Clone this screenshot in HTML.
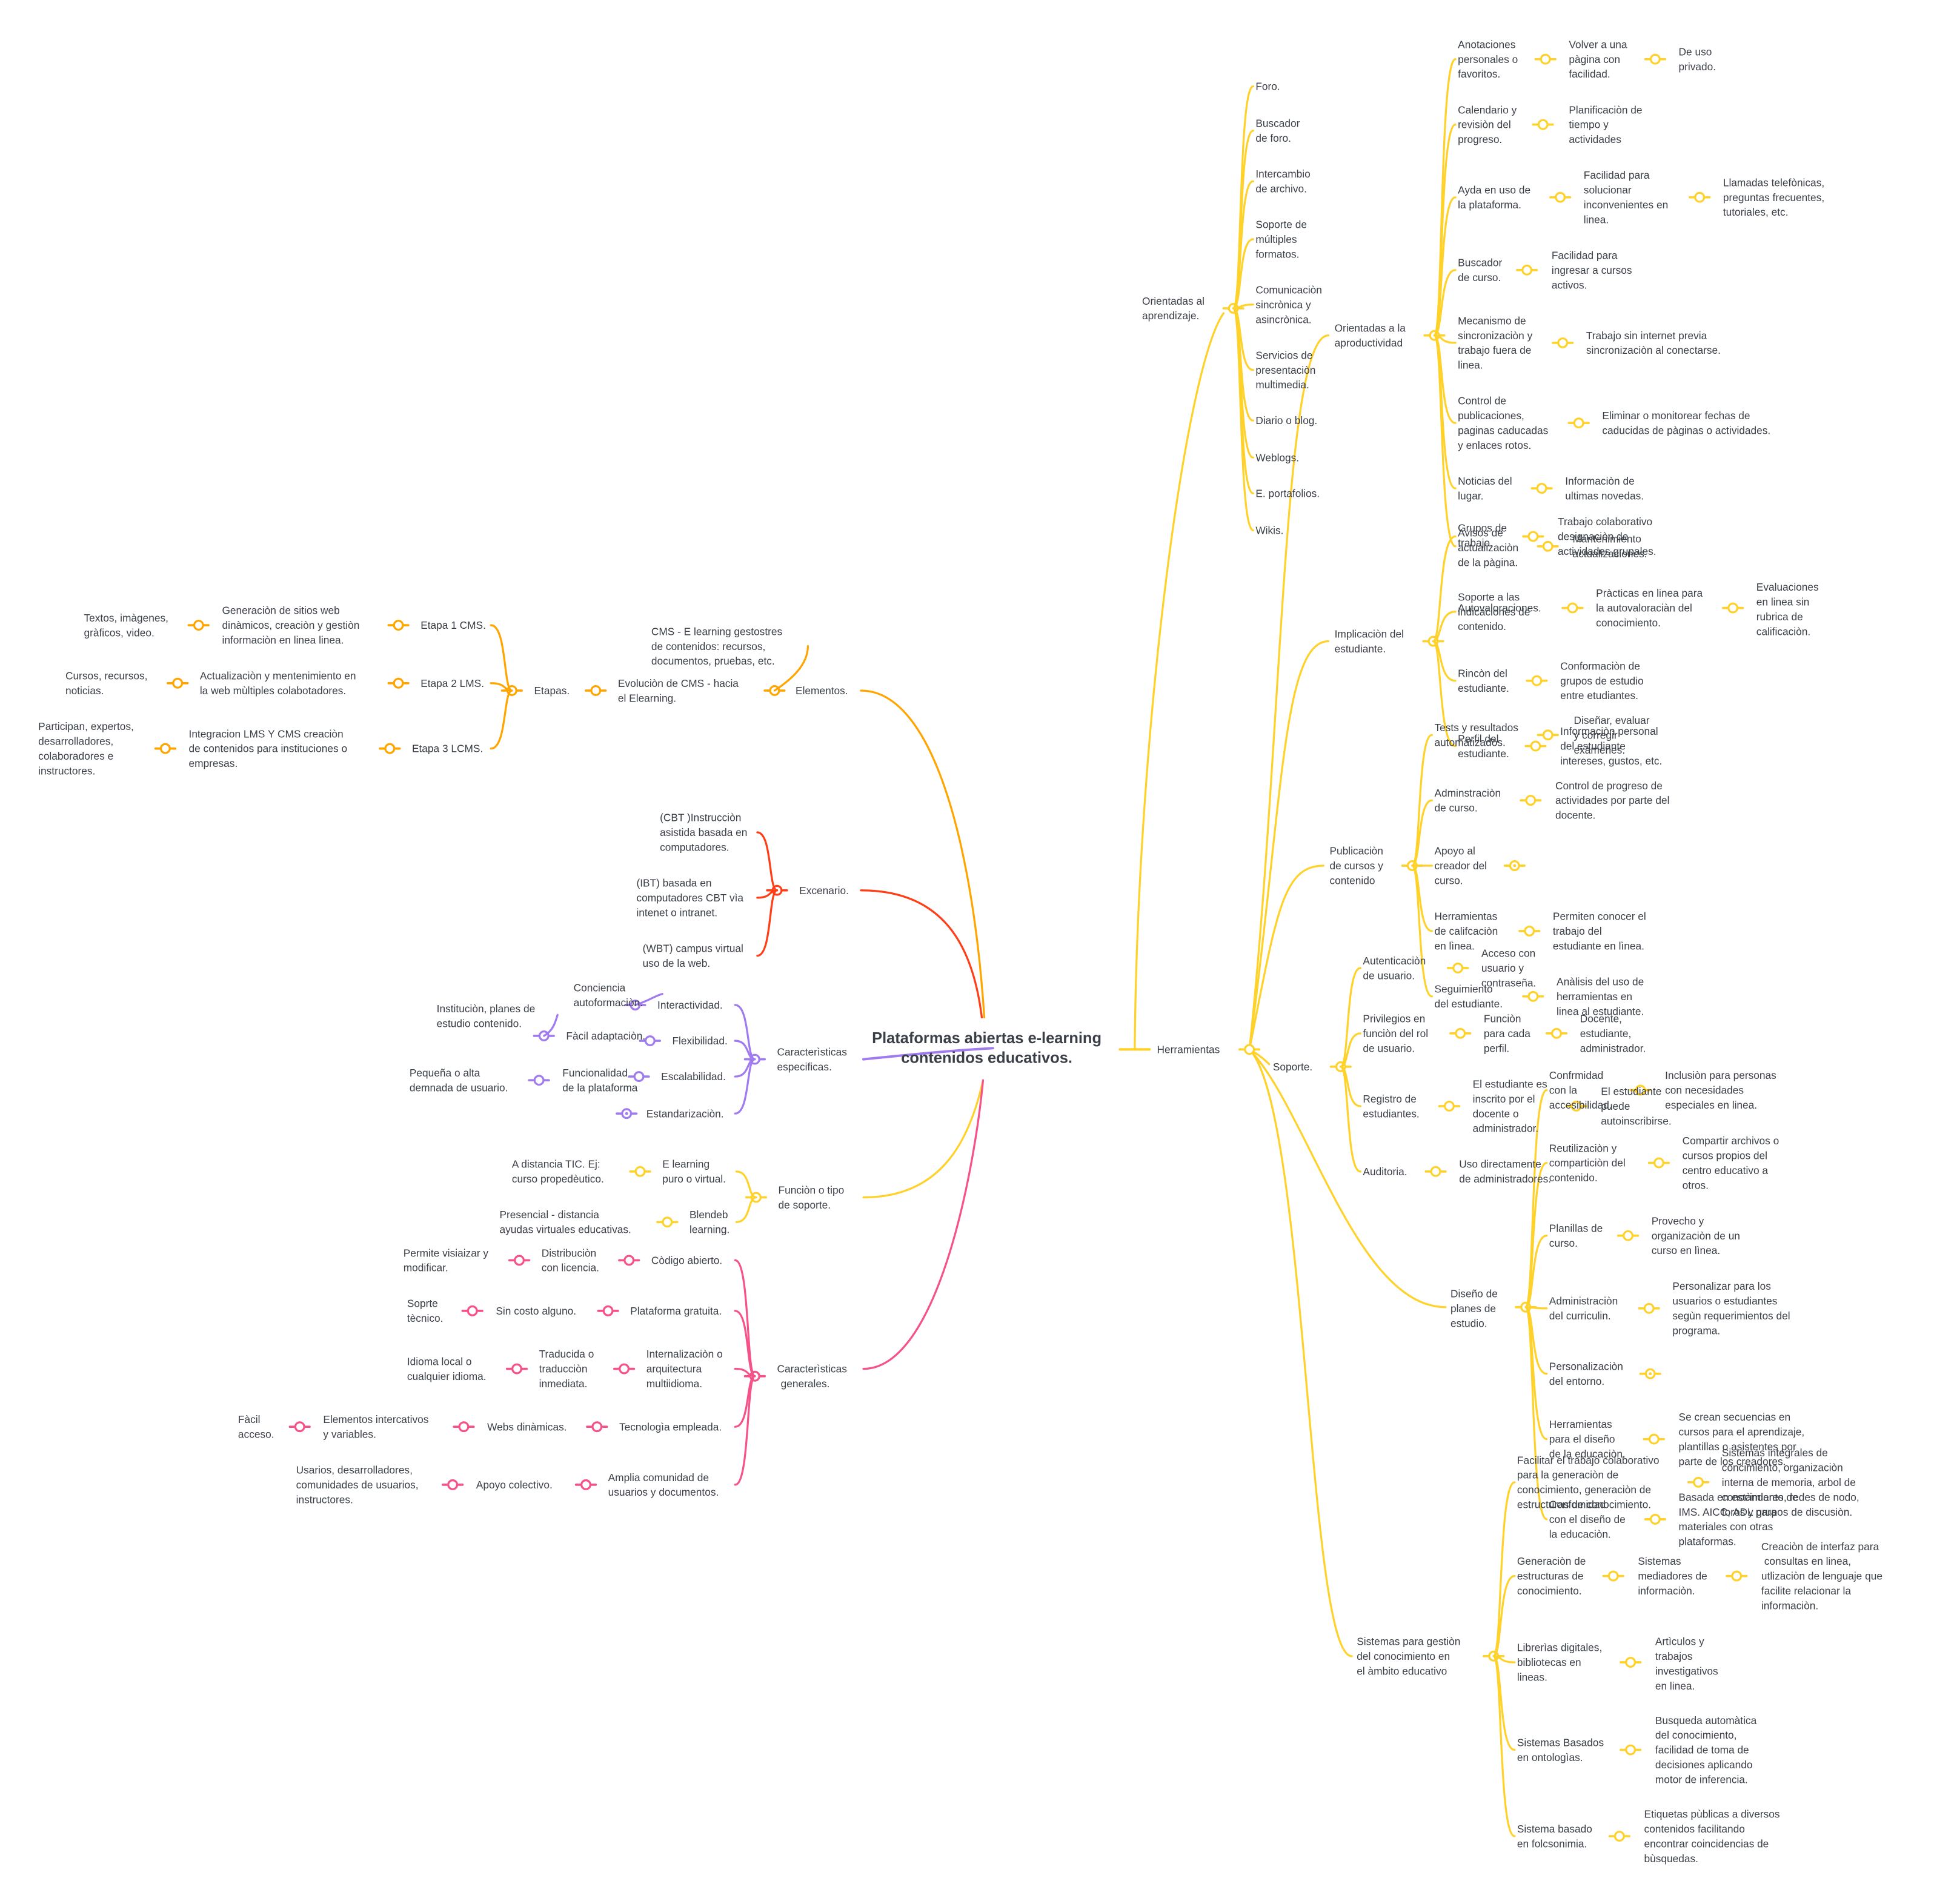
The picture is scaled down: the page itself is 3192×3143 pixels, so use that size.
<!DOCTYPE html>
<html><head><meta charset="utf-8">
<style>
html,body{margin:0;padding:0;background:#fff;}
svg{display:block;}
text{font-family:"Liberation Sans",sans-serif;font-size:8.5px;fill:#3a3f47;}
.t{font-weight:bold;font-size:12.5px;fill:#3a3f47;}
</style></head><body>
<svg id="s" width="3192" height="3143" viewBox="0 0 1568 1544" xmlns="http://www.w3.org/2000/svg">
<g id="lines" fill="none" stroke-linecap="round"></g>
<g transform="translate(0,3)">
<text class="t" x="800" y="843" text-anchor="middle">Plataformas abiertas e-learning<tspan x="800" dy="16">contenidos educativos.</tspan></text>
<text x="938" y="851">Herramientas</text>

<text x="926" y="244">Orientadas al<tspan x="926" dy="12">aprendizaje.</tspan></text>
<text x="1018" y="70">Foro.</text>
<text x="1018" y="100">Buscador<tspan x="1018" dy="12">de foro.</tspan></text>
<text x="1018" y="141">Intercambio<tspan x="1018" dy="12">de archivo.</tspan></text>
<text x="1018" y="182">Soporte de<tspan x="1018" dy="12">múltiples</tspan><tspan x="1018" dy="12">formatos.</tspan></text>
<text x="1018" y="235">Comunicaciòn<tspan x="1018" dy="12">sincrònica y</tspan><tspan x="1018" dy="12">asincrònica.</tspan></text>
<text x="1018" y="288">Servicios de<tspan x="1018" dy="12">presentaciòn</tspan><tspan x="1018" dy="12">multimedia.</tspan></text>
<text x="1018" y="341">Diario o blog.</text>
<text x="1018" y="371">Weblogs.</text>
<text x="1018" y="400">E. portafolios.</text>
<text x="1018" y="430">Wikis.</text>

<text x="1082" y="266">Orientadas a la<tspan x="1082" dy="12">aproductividad</tspan></text>
<text x="1182" y="36">Anotaciones<tspan x="1182" dy="12">personales o</tspan><tspan x="1182" dy="12">favoritos.</tspan></text>
<text x="1272" y="36">Volver a una<tspan x="1272" dy="12">pàgina con</tspan><tspan x="1272" dy="12">facilidad.</tspan></text>
<text x="1361" y="42">De uso<tspan x="1361" dy="12">privado.</tspan></text>
<text x="1182" y="89">Calendario y<tspan x="1182" dy="12">revisiòn del</tspan><tspan x="1182" dy="12">progreso.</tspan></text>
<text x="1272" y="89">Planificaciòn de<tspan x="1272" dy="12">tiempo y</tspan><tspan x="1272" dy="12">actividades</tspan></text>
<text x="1182" y="154">Ayda en uso de<tspan x="1182" dy="12">la plataforma.</tspan></text>
<text x="1284" y="142">Facilidad para<tspan x="1284" dy="12">solucionar</tspan><tspan x="1284" dy="12">inconvenientes en</tspan><tspan x="1284" dy="12">linea.</tspan></text>
<text x="1397" y="148">Llamadas telefònicas,<tspan x="1397" dy="12">preguntas frecuentes,</tspan><tspan x="1397" dy="12">tutoriales, etc.</tspan></text>
<text x="1182" y="213">Buscador<tspan x="1182" dy="12">de curso.</tspan></text>
<text x="1258" y="207">Facilidad para<tspan x="1258" dy="12">ingresar a cursos</tspan><tspan x="1258" dy="12">activos.</tspan></text>
<text x="1182" y="260">Mecanismo de<tspan x="1182" dy="12">sincronizaciòn y</tspan><tspan x="1182" dy="12">trabajo fuera de</tspan><tspan x="1182" dy="12">linea.</tspan></text>
<text x="1286" y="272">Trabajo sin internet previa<tspan x="1286" dy="12">sincronizaciòn al conectarse.</tspan></text>
<text x="1182" y="325">Control de<tspan x="1182" dy="12">publicaciones,</tspan><tspan x="1182" dy="12">paginas caducadas</tspan><tspan x="1182" dy="12">y enlaces rotos.</tspan></text>
<text x="1299" y="337">Eliminar o monitorear fechas de<tspan x="1299" dy="12">caducidas de pàginas o actividades.</tspan></text>
<text x="1182" y="390">Noticias del<tspan x="1182" dy="12">lugar.</tspan></text>
<text x="1269" y="390">Informaciòn de<tspan x="1269" dy="12">ultimas novedas.</tspan></text>
<text x="1182" y="432">Avisos de<tspan x="1182" dy="12">actualizaciòn</tspan><tspan x="1182" dy="12">de la pàgina.</tspan></text>
<text x="1275" y="437">Mantenimiento<tspan x="1275" dy="12">actualizaciones.</tspan></text>

<text x="1082" y="514">Implicaciòn del<tspan x="1082" dy="12">estudiante.</tspan></text>
<text x="1182" y="428">Grupos de<tspan x="1182" dy="12">trabajo.</tspan></text>
<text x="1263" y="423">Trabajo colaborativo<tspan x="1263" dy="12">designaciòn de</tspan><tspan x="1263" dy="12">actividades grupales.</tspan></text>
<text x="1182" y="484">Soporte a las<tspan x="1182" dy="12">indicaciones de</tspan><tspan x="1182" dy="12">contenido.</tspan></text>
<text x="1182" y="493">Autovaloraciones.</text>
<text x="1294" y="481">Pràcticas en linea para<tspan x="1294" dy="12">la autovaloraciàn del</tspan><tspan x="1294" dy="12">conocimiento.</tspan></text>
<text x="1424" y="476">Evaluaciones<tspan x="1424" dy="12">en linea sin</tspan><tspan x="1424" dy="12">rubrica de</tspan><tspan x="1424" dy="12">calificaciòn.</tspan></text>
<text x="1182" y="546">Rincòn del<tspan x="1182" dy="12">estudiante.</tspan></text>
<text x="1265" y="540">Conformaciòn de<tspan x="1265" dy="12">grupos de estudio</tspan><tspan x="1265" dy="12">entre etudiantes.</tspan></text>
<text x="1182" y="599">Perfil del<tspan x="1182" dy="12">estudiante.</tspan></text>
<text x="1265" y="593">Informaciòn personal<tspan x="1265" dy="12">del estudiante</tspan><tspan x="1265" dy="12">intereses, gustos, etc.</tspan></text>

<text x="1078" y="690">Publicaciòn<tspan x="1078" dy="12">de cursos y</tspan><tspan x="1078" dy="12">contenido</tspan></text>
<text x="1163" y="590">Tests y resultados<tspan x="1163" dy="12">automatizados.</tspan></text>
<text x="1276" y="584">Diseñar, evaluar<tspan x="1276" dy="12">y corregir</tspan><tspan x="1276" dy="12">exàmenes.</tspan></text>
<text x="1163" y="643">Adminstraciòn<tspan x="1163" dy="12">de curso.</tspan></text>
<text x="1261" y="637">Control de progreso de<tspan x="1261" dy="12">actividades por parte del</tspan><tspan x="1261" dy="12">docente.</tspan></text>
<text x="1163" y="690">Apoyo al<tspan x="1163" dy="12">creador del</tspan><tspan x="1163" dy="12">curso.</tspan></text>
<text x="1163" y="743">Herramientas<tspan x="1163" dy="12">de califcaciòn</tspan><tspan x="1163" dy="12">en lìnea.</tspan></text>
<text x="1259" y="743">Permiten conocer el<tspan x="1259" dy="12">trabajo del</tspan><tspan x="1259" dy="12">estudiante en lìnea.</tspan></text>
<text x="1163" y="802">Seguimiento<tspan x="1163" dy="12">del estudiante.</tspan></text>
<text x="1262" y="796">Anàlisis del uso de<tspan x="1262" dy="12">herramientas en</tspan><tspan x="1262" dy="12">linea al estudiante.</tspan></text>

<text x="1032" y="865">Soporte.</text>
<text x="1105" y="779">Autenticaciòn<tspan x="1105" dy="12">de usuario.</tspan></text>
<text x="1201" y="773">Acceso con<tspan x="1201" dy="12">usuario y</tspan><tspan x="1201" dy="12">contraseña.</tspan></text>
<text x="1105" y="826">Privilegios en<tspan x="1105" dy="12">funciòn del rol</tspan><tspan x="1105" dy="12">de usuario.</tspan></text>
<text x="1203" y="826">Funciòn<tspan x="1203" dy="12">para cada</tspan><tspan x="1203" dy="12">perfil.</tspan></text>
<text x="1281" y="826">Docente,<tspan x="1281" dy="12">estudiante,</tspan><tspan x="1281" dy="12">administrador.</tspan></text>
<text x="1105" y="891">Registro de<tspan x="1105" dy="12">estudiantes.</tspan></text>
<text x="1194" y="879">El estudiante es<tspan x="1194" dy="12">inscrito por el</tspan><tspan x="1194" dy="12">docente o</tspan><tspan x="1194" dy="12">administrador.</tspan></text>
<text x="1298" y="885">El estudiante<tspan x="1298" dy="12">puede</tspan><tspan x="1298" dy="12">autoinscribirse.</tspan></text>
<text x="1105" y="950">Auditoria.</text>
<text x="1183" y="944">Uso directamente<tspan x="1183" dy="12">de administradores.</tspan></text>

<text x="1176" y="1049">Diseño de<tspan x="1176" dy="12">planes de</tspan><tspan x="1176" dy="12">estudio.</tspan></text>
<text x="1256" y="872">Confrmidad<tspan x="1256" dy="12">con la</tspan><tspan x="1256" dy="12">accesibilidad.</tspan></text>
<text x="1350" y="872">Inclusiòn para personas<tspan x="1350" dy="12">con necesidades</tspan><tspan x="1350" dy="12">especiales en linea.</tspan></text>
<text x="1256" y="931">Reutilizaciòn y<tspan x="1256" dy="12">comparticiòn del</tspan><tspan x="1256" dy="12">contenido.</tspan></text>
<text x="1364" y="925">Compartir archivos o<tspan x="1364" dy="12">cursos propios del</tspan><tspan x="1364" dy="12">centro educativo a</tspan><tspan x="1364" dy="12">otros.</tspan></text>
<text x="1256" y="996">Planillas de<tspan x="1256" dy="12">curso.</tspan></text>
<text x="1339" y="990">Provecho y<tspan x="1339" dy="12">organizaciòn de un</tspan><tspan x="1339" dy="12">curso en lìnea.</tspan></text>
<text x="1256" y="1055">Administraciòn<tspan x="1256" dy="12">del curriculin.</tspan></text>
<text x="1356" y="1043">Personalizar para los<tspan x="1356" dy="12">usuarios o estudiantes</tspan><tspan x="1356" dy="12">segùn requerimientos del</tspan><tspan x="1356" dy="12">programa.</tspan></text>
<text x="1256" y="1108">Personalizaciòn<tspan x="1256" dy="12">del entorno.</tspan></text>
<text x="1256" y="1155">Herramientas<tspan x="1256" dy="12">para el diseño</tspan><tspan x="1256" dy="12">de la educaciòn.</tspan></text>
<text x="1361" y="1149">Se crean secuencias en<tspan x="1361" dy="12">cursos para el aprendizaje,</tspan><tspan x="1361" dy="12">plantillas o asistentes por</tspan><tspan x="1361" dy="12">parte de los creadores.</tspan></text>
<text x="1256" y="1220">Confomidad<tspan x="1256" dy="12">con el diseño de</tspan><tspan x="1256" dy="12">la educaciòn.</tspan></text>
<text x="1361" y="1214">Basada en estàndares de<tspan x="1361" dy="12">IMS. AICC, ADL para</tspan><tspan x="1361" dy="12">materiales con otras</tspan><tspan x="1361" dy="12">plataformas.</tspan></text>

<text x="1100" y="1331">Sistemas para gestiòn<tspan x="1100" dy="12">del conocimiento en</tspan><tspan x="1100" dy="12">el àmbito educativo</tspan></text>
<text x="1230" y="1184">Facilitar el trabajo colaborativo<tspan x="1230" dy="12">para la generaciòn de</tspan><tspan x="1230" dy="12">conocimiento, generaciòn de</tspan><tspan x="1230" dy="12">estructuras de conocimiento.</tspan></text>
<text x="1396" y="1178">Sistemas integrales de<tspan x="1396" dy="12">concimiento, organizaciòn</tspan><tspan x="1396" dy="12">interna de memoria, arbol de</tspan><tspan x="1396" dy="12">conocimiento, redes de nodo,</tspan><tspan x="1396" dy="12">foros y grupos de discusiòn.</tspan></text>
<text x="1230" y="1266">Generaciòn de<tspan x="1230" dy="12">estructuras de</tspan><tspan x="1230" dy="12">conocimiento.</tspan></text>
<text x="1328" y="1266">Sistemas<tspan x="1328" dy="12">mediadores de</tspan><tspan x="1328" dy="12">informaciòn.</tspan></text>
<text x="1428" y="1254">Creaciòn de interfaz para<tspan x="1428" dy="12"> consultas en linea,</tspan><tspan x="1428" dy="12">utlizaciòn de lenguaje que</tspan><tspan x="1428" dy="12">facilite relacionar la</tspan><tspan x="1428" dy="12">informaciòn.</tspan></text>
<text x="1230" y="1336">Librerìas digitales,<tspan x="1230" dy="12">bibliotecas en</tspan><tspan x="1230" dy="12">lineas.</tspan></text>
<text x="1342" y="1331">Artìculos y<tspan x="1342" dy="12">trabajos</tspan><tspan x="1342" dy="12">investigativos</tspan><tspan x="1342" dy="12">en linea.</tspan></text>
<text x="1230" y="1413">Sistemas Basados<tspan x="1230" dy="12">en ontologìas.</tspan></text>
<text x="1342" y="1395">Busqueda automàtica<tspan x="1342" dy="12">del conocimiento,</tspan><tspan x="1342" dy="12">facilidad de toma de</tspan><tspan x="1342" dy="12">decisiones aplicando</tspan><tspan x="1342" dy="12">motor de inferencia.</tspan></text>
<text x="1230" y="1483">Sistema basado<tspan x="1230" dy="12">en folcsonimia.</tspan></text>
<text x="1333" y="1471">Etiquetas pùblicas a diversos<tspan x="1333" dy="12">contenidos facilitando</tspan><tspan x="1333" dy="12">encontrar coincidencias de</tspan><tspan x="1333" dy="12">bùsquedas.</tspan></text>

<!-- LEFT -->
<text x="645" y="560">Elementos.</text>
<text x="528" y="512">CMS - E learning gestostres<tspan x="528" dy="12">de contenidos: recursos,</tspan><tspan x="528" dy="12">documentos, pruebas, etc.</tspan></text>
<text x="501" y="554">Evoluciòn de CMS - hacia<tspan x="501" dy="12">el Elearning.</tspan></text>
<text x="433" y="560">Etapas.</text>
<text x="341" y="507">Etapa 1 CMS.</text>
<text x="180" y="495">Generaciòn de sitios web<tspan x="180" dy="12">dinàmicos, creaciòn y gestiòn</tspan><tspan x="180" dy="12">informaciòn en linea linea.</tspan></text>
<text x="68" y="501">Textos, imàgenes,<tspan x="68" dy="12">gràficos, video.</tspan></text>
<text x="341" y="554">Etapa 2 LMS.</text>
<text x="162" y="548">Actualizaciòn y mentenimiento en<tspan x="162" dy="12">la web mùltiples colabotadores.</tspan></text>
<text x="53" y="548">Cursos, recursos,<tspan x="53" dy="12">noticias.</tspan></text>
<text x="334" y="607">Etapa 3 LCMS.</text>
<text x="153" y="595">Integracion LMS Y CMS creaciòn<tspan x="153" dy="12">de contenidos para instituciones o</tspan><tspan x="153" dy="12">empresas.</tspan></text>
<text x="31" y="589">Participan, expertos,<tspan x="31" dy="12">desarrolladores,</tspan><tspan x="31" dy="12">colaboradores e</tspan><tspan x="31" dy="12">instructores.</tspan></text>

<text x="648" y="722">Excenario.</text>
<text x="535" y="663">(CBT )Instrucciòn<tspan x="535" dy="12">asistida basada en</tspan><tspan x="535" dy="12">computadores.</tspan></text>
<text x="516" y="716">(IBT) basada en<tspan x="516" dy="12">computadores CBT vìa</tspan><tspan x="516" dy="12">intenet o intranet.</tspan></text>
<text x="521" y="769">(WBT) campus virtual<tspan x="521" dy="12">uso de la web.</tspan></text>

<text x="630" y="853">Caracterìsticas<tspan x="630" dy="12">especificas.</tspan></text>
<text x="533" y="815">Interactividad.</text>
<text x="465" y="801">Conciencia<tspan x="465" dy="12">autoformaciòn.</tspan></text>
<text x="545" y="844">Flexibilidad.</text>
<text x="459" y="840">Fàcil adaptaciòn.</text>
<text x="354" y="818">Instituciòn, planes de<tspan x="354" dy="12">estudio contenido.</tspan></text>
<text x="536" y="873">Escalabilidad.</text>
<text x="456" y="870">Funcionalidad<tspan x="456" dy="12">de la plataforma</tspan></text>
<text x="332" y="870">Pequeña o alta<tspan x="332" dy="12">demnada de usuario.</tspan></text>
<text x="524" y="903">Estandarizaciòn.</text>

<text x="631" y="965">Funciòn o tipo<tspan x="631" dy="12">de soporte.</tspan></text>
<text x="537" y="944">E learning<tspan x="537" dy="12">puro o virtual.</tspan></text>
<text x="415" y="944">A distancia TIC. Ej:<tspan x="415" dy="12">curso propedèutico.</tspan></text>
<text x="559" y="985">Blendeb<tspan x="559" dy="12">learning.</tspan></text>
<text x="405" y="985">Presencial - distancia<tspan x="405" dy="12">ayudas virtuales educativas.</tspan></text>

<text x="630" y="1110">Caracterìsticas<tspan x="633" dy="12">generales.</tspan></text>
<text x="528" y="1022">Còdigo abierto.</text>
<text x="439" y="1016">Distribuciòn<tspan x="439" dy="12">con licencia.</tspan></text>
<text x="327" y="1016">Permite visiaizar y<tspan x="327" dy="12">modificar.</tspan></text>
<text x="511" y="1063">Plataforma gratuita.</text>
<text x="402" y="1063">Sin costo alguno.</text>
<text x="330" y="1057">Soprte<tspan x="330" dy="12">tècnico.</tspan></text>
<text x="524" y="1098">Internalizaciòn o<tspan x="524" dy="12">arquitectura</tspan><tspan x="524" dy="12">multiidioma.</tspan></text>
<text x="437" y="1098">Traducida o<tspan x="437" dy="12">traducciòn</tspan><tspan x="437" dy="12">inmediata.</tspan></text>
<text x="330" y="1104">Idioma local o<tspan x="330" dy="12">cualquier idioma.</tspan></text>
<text x="502" y="1157">Tecnologìa empleada.</text>
<text x="395" y="1157">Webs dinàmicas.</text>
<text x="262" y="1151">Elementos intercativos<tspan x="262" dy="12">y variables.</tspan></text>
<text x="193" y="1151">Fàcil<tspan x="193" dy="12">acceso.</tspan></text>
<text x="493" y="1198">Amplia comunidad de<tspan x="493" dy="12">usuarios y documentos.</tspan></text>
<text x="386" y="1204">Apoyo colectivo.</text>
<text x="240" y="1192">Usarios, desarrolladores,<tspan x="240" dy="12">comunidades de usuarios,</tspan><tspan x="240" dy="12">instructores.</tspan></text>
</g>
</svg>
<script>
(function(){
var g=document.getElementById('lines'),NS='http://www.w3.org/2000/svg';
function p(d,c,w){var e=document.createElementNS(NS,'path');e.setAttribute('d',d);e.setAttribute('stroke',c);e.setAttribute('stroke-width',w||1.6);g.appendChild(e);}
function hub(x,y,c,dot){p('M'+(x-8)+' '+y+'H'+(x-3.5)+'M'+(x+3.5)+' '+y+'H'+(x+8),c,1.8);
var e=document.createElementNS(NS,'circle');e.setAttribute('cx',x);e.setAttribute('cy',y);e.setAttribute('r',3.6);e.setAttribute('fill','#fff');e.setAttribute('stroke',c);e.setAttribute('stroke-width',1.6);g.appendChild(e);
if(dot){var d=document.createElementNS(NS,'circle');d.setAttribute('cx',x);d.setAttribute('cy',y);d.setAttribute('r',1.2);d.setAttribute('fill',c);g.appendChild(d);}}
function R(x,y,tx,ys,c){ys.forEach(function(cy){p('M'+x+' '+y+'C'+(x+7)+' '+y+','+(x+4)+' '+cy+','+tx+' '+cy,c);});}
function L(x,y,tx,ys,c){ys.forEach(function(cy){p('M'+x+' '+y+'C'+(x-7)+' '+y+','+(x-4)+' '+cy+','+tx+' '+cy,c);});}
var Y='#FFD22B',O='#FFA500',Rd='#FF3D17',P='#A07BF0',K='#F5528A';
// center right
p('M908 851H932',Y,2);
p('M920 851C922 600,960 300,992 254',Y);
p('M1013 851C1040 600,1040 272,1077 272',Y);
p('M1013 851C1040 650,1040 520,1077 520',Y);
p('M1013 851C1035 740,1040 702,1073 702',Y);
p('M1013 851C1020 855,1024 858,1029 863',Y);
p('M1013 851C1060 900,1100 1060,1172 1060',Y);
p('M1013 851C1060 900,1060 1343,1096 1343',Y);
[[1000,250],[1013,851],[1163,272],[1162,520],[1145,702],[1087,865],[1237,1060],[1211,1343]].forEach(function(h){hub(h[0],h[1],Y);});
R(1000,250,1016,[70,106,147,194,247,300,341,371,400,430],Y);
R(1163,272,1180,[48,101,160,219,278,343,396,443],Y);
R(1162,520,1180,[435,496,552,605],Y);
R(1145,702,1161,[596,649,702,755,808],Y);
R(1087,865,1103,[785,838,897,950],Y);
R(1237,1060,1254,[884,943,1002,1061,1114,1167,1232],Y);
R(1211,1343,1228,[1202,1278,1348,1419,1489],Y);
[[1253,48],[1342,48],[1251,101],[1265,160],[1378,160],[1238,219],[1267,278],[1280,343],[1250,396],[1255,443],[1243,435],[1275,493],[1405,493],[1246,552],[1245,605],[1255,596],[1241,649],[1240,755],[1243,808],[1182,785],[1184,838],[1262,838],[1175,897],[1278,897],[1164,950],[1330,884],[1345,943],[1320,1002],[1337,1061],[1341,1167],[1342,1232],[1377,1202],[1308,1278],[1408,1278],[1322,1348],[1322,1419],[1313,1489]].forEach(function(h){hub(h[0],h[1],Y);});
hub(1228,702,Y,1);hub(1338,1114,Y,1);
// left orange
p('M698 560C760 560,790 700,798 825',O);
hub(628,560,O);p('M628 560C640 552,655 540,655 524',O);
hub(483,560,O);hub(415,560,O);
L(415,560,398,[507,554,607],O);
[[323,507],[161,507],[323,554],[144,554],[316,607],[134,607]].forEach(function(h){hub(h[0],h[1],O);});
// red
p('M698 722C760 722,788 760,796 825',Rd);
hub(630,722,Rd);L(630,722,614,[675,728,775],Rd);
// purple
p('M700 859C740 855,770 852,805 850',P,2);
hub(612,859,P);L(612,859,596,[815,844,873,903],P);
hub(515,815,P);p('M515 815C525 812,530 808,537 806',P);
hub(527,844,P);hub(441,840,P);p('M441 840C448 836,450 830,452 823',P);
hub(518,873,P);hub(437,876,P);hub(508,903,P,1);
// yellow left
p('M700 971C760 971,785 930,797 876',Y);
hub(613,971,Y);L(613,971,597,[950,991],Y);hub(519,950,Y);hub(541,991,Y);
// pink
p('M700 1110C760 1110,790 950,797 876',K);
hub(612,1116,K);L(612,1116,596,[1022,1063,1110,1157,1204],K);
[[510,1022],[421,1022],[493,1063],[383,1063],[506,1110],[419,1110],[484,1157],[376,1157],[243,1157],[475,1204],[367,1204]].forEach(function(h){hub(h[0],h[1],K);});
})();
</script>
</body></html>
